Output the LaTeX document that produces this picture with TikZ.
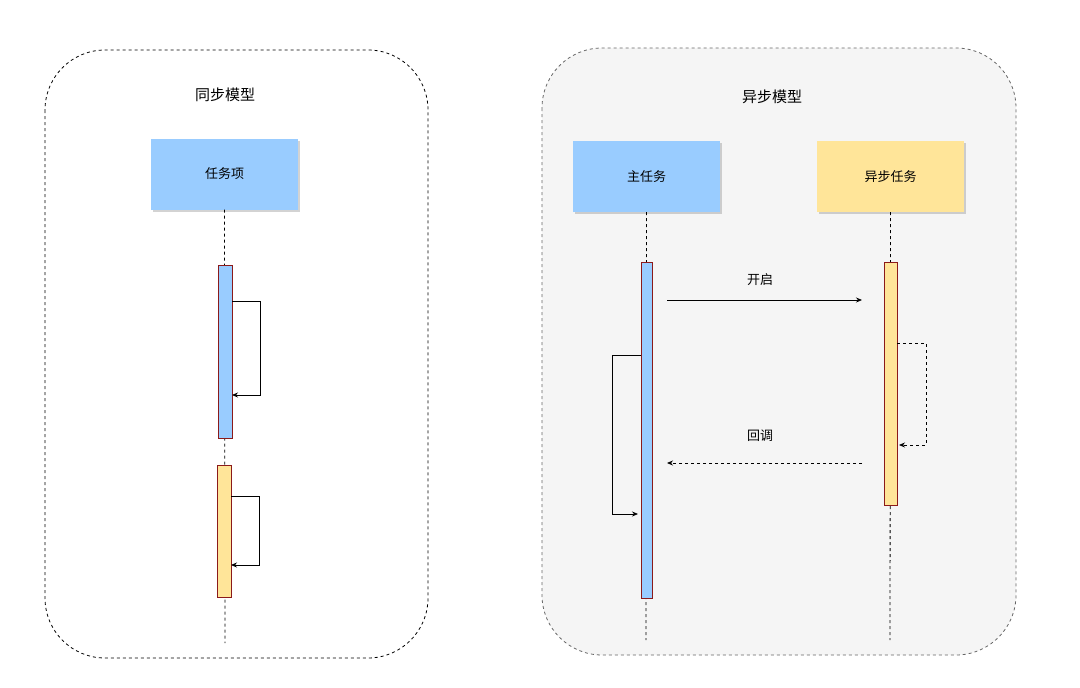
\documentclass[tikz,border=0pt]{standalone}
\usepackage{fontspec}
\setmainfont{Noto Sans CJK SC}
\usetikzlibrary{arrows.meta,shadows}
\definecolor{bl}{HTML}{99CCFF}
\definecolor{yl}{HTML}{FFE599}
\definecolor{br}{HTML}{8B1A1A}
\begin{document}
\begin{tikzpicture}[x=1pt,y=-1pt,
 cont/.style={dashed,rounded corners=60pt,line width=0.8pt},
 head/.style={minimum width=147pt,minimum height=71pt,draw=none,font=\fontsize{13}{15}\selectfont,drop shadow={shadow xshift=2pt,shadow yshift=-2pt,opacity=0.35}},
 act/.style={draw=br,line width=0.8pt},
 life/.style={dashed,line width=0.8pt},
 arr/.style={-{Stealth[length=6pt,width=5pt]},line width=0.8pt},
 lbl/.style={font=\fontsize{13}{15}\selectfont}]
\useasboundingbox (0,0) rectangle (1080,688);
% left
\draw[cont] (45,50) rectangle (428,658);
\node[lbl,font=\fontsize{15}{18}\selectfont] (t1) at (225,95) {同步模型};
\node[head,fill=bl] (h1) at (224.5,174) {任务项};
\coordinate (l1e) at (225,643);
\draw[life] (h1.south) -- (l1e);
\draw[act,fill=bl] (218,265) rectangle (232,438);
\draw[act,fill=yl] (217,465) rectangle (231,597);
\draw[arr] (232,301) -- (260,301) -- (260,395) -- (232,395);
\draw[arr] (231,496) -- (259,496) -- (259,565) -- (231,565);
% right
\draw[cont,fill=black!4,draw=black!60] (542,48) rectangle (1016,655);
\node[lbl,font=\fontsize{15}{18}\selectfont] (t2) at (772,97) {异步模型};
\node[head,fill=bl] (h2) at (646.5,176.5) {主任务};
\node[head,fill=yl] (h3) at (890.5,176.5) {异步任务};
\coordinate (l2e) at (646,640);
\coordinate (l3e) at (890,640);
\draw[life] (h2.south) -- (l2e);
\draw[life] (h3.south) -- (l3e);
\draw[act,fill=bl] (641,262) rectangle (652,598);
\draw[act,fill=yl] (884,262) rectangle (897,505);
\coordinate (s1) at (667,300); \coordinate (e1) at (862,300);
\draw[arr] (s1) -- (e1);
\node[lbl] (k) at (760,280) {开启};
\coordinate (s2) at (862,463); \coordinate (e2) at (667,463);
\draw[arr,dashed] (s2) -- (e2);
\node[lbl] (h) at (760,436) {回调};
\draw[arr,dashed] (897,343) -- (926,343) -- (926,445) -- (899,445);
\draw[arr] (641,355) -- (612,355) -- (612,514) -- (638,514);
\end{tikzpicture}
\end{document}
